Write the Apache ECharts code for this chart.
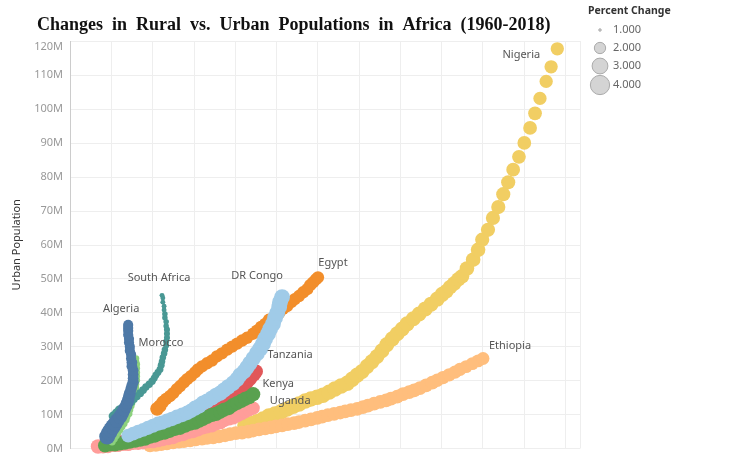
<!DOCTYPE html>
<html>
<head>
<meta charset="utf-8">
<title>Rural vs Urban Populations in Africa</title>
<script src="https://cdn.jsdelivr.net/npm/echarts@6/dist/echarts.min.js"></script>
<style>
    html, body { margin: 0; padding: 0; background: #fff; }
    #chart01 { width: 736px; height: 454px; }
</style>
</head>
<body>
<div id="chart01"></div>
<script>
// rural / urban population in millions, pct = percent change (mark size)
var nigeriaRural = [42.4, 43.9, 45.3, 46.8, 48.2, 49.7, 51.2, 52.6, 54.1, 55.5, 57.0, 58.4, 59.9, 61.3, 62.8, 64.2, 65.7, 67.2, 68.4, 69.6, 70.8, 72.0, 73.2, 74.4, 75.6, 76.8, 78.1, 79.3, 80.5, 81.7, 83.2, 84.6, 86.1, 87.5, 89.0, 90.2, 91.2, 92.1, 93.1, 94.1, 95.0, 96.2, 97.7, 98.9, 99.9, 101.3, 102.5, 103.8, 105.0, 106.2, 107.4, 108.8, 110.1, 111.5, 112.7, 113.9, 115.4, 116.6, 118.1];
var nigeriaUrban = [6.7, 7.3, 7.9, 8.7, 9.6, 10.2, 10.8, 11.6, 12.4, 13.1, 14.0, 14.6, 15.1, 15.7, 16.6, 17.5, 18.4, 19.2, 20.4, 21.6, 22.7, 24.2, 25.6, 27.1, 28.8, 30.6, 32.3, 33.8, 35.2, 36.7, 38.2, 39.6, 41.1, 42.5, 44.0, 45.4, 46.3, 47.5, 48.6, 49.8, 50.7, 53.0, 55.6, 58.5, 61.5, 64.4, 67.9, 71.1, 74.9, 78.4, 82.1, 85.9, 90.0, 94.4, 98.7, 103.1, 108.1, 112.4, 117.7];
var nigeriaPct = [2.9, 2.9, 2.9, 2.9, 2.9, 2.9, 2.9, 2.9, 2.9, 2.9, 2.9, 2.9, 2.9, 2.9, 2.9, 2.9, 2.9, 2.9, 2.9, 2.9, 2.8, 2.8, 2.8, 2.8, 2.8, 2.8, 2.8, 2.8, 2.8, 2.8, 2.8, 2.8, 2.8, 2.8, 2.8, 2.8, 2.7, 2.7, 2.7, 2.7, 2.7, 2.7, 2.7, 2.7, 2.6, 2.6, 2.6, 2.6, 2.6, 2.6, 2.5, 2.5, 2.5, 2.5, 2.5, 2.4, 2.4, 2.4, 2.4];

var ethiopiaRural = [19.4, 20.8, 22.1, 23.5, 25.0, 26.4, 27.6, 29.1, 30.5, 32.0, 33.2, 34.7, 36.1, 37.6, 38.8, 40.2, 41.7, 43.2, 44.4, 45.8, 47.3, 48.7, 49.9, 51.4, 52.8, 54.3, 55.5, 57.0, 58.4, 59.9, 61.1, 62.5, 64.0, 65.5, 66.7, 68.1, 69.6, 71.0, 72.2, 73.7, 75.2, 76.6, 77.8, 79.3, 80.7, 82.2, 83.4, 84.8, 86.3, 87.8, 89.0, 90.4, 91.9, 93.3, 94.5, 96.0, 97.5, 98.9, 100.1];
var ethiopiaUrban = [0.9, 1.1, 1.3, 1.5, 1.8, 2.0, 2.2, 2.4, 2.7, 2.9, 3.1, 3.3, 3.6, 3.9, 4.2, 4.5, 4.7, 5.0, 5.3, 5.6, 5.9, 6.2, 6.5, 6.8, 7.2, 7.5, 7.8, 8.2, 8.6, 9.0, 9.4, 9.8, 10.2, 10.6, 10.9, 11.3, 11.7, 12.2, 12.6, 13.2, 13.7, 14.2, 14.7, 15.3, 16.0, 16.6, 17.1, 17.8, 18.6, 19.4, 20.1, 20.9, 21.7, 22.5, 23.3, 24.1, 25.0, 25.8, 26.5];
var ethiopiaPct = [2.5, 2.5, 2.5, 2.5, 2.5, 2.5, 2.5, 2.5, 2.5, 2.5, 2.5, 2.5, 2.5, 2.5, 2.5, 2.5, 2.5, 2.5, 2.5, 2.5, 2.5, 2.5, 2.5, 2.5, 2.5, 2.5, 2.5, 2.5, 2.5, 2.5, 2.5, 2.5, 2.5, 2.5, 2.5, 2.5, 2.5, 2.5, 2.5, 2.5, 2.5, 2.5, 2.5, 2.5, 2.5, 2.5, 2.5, 2.5, 2.5, 2.5, 2.4, 2.4, 2.4, 2.4, 2.4, 2.3, 2.3, 2.3, 2.3];

var egyptRural = [21.1, 21.8, 22.5, 23.3, 24.2, 25.0, 25.9, 26.7, 27.6, 28.4, 29.3, 30.3, 31.0, 32.0, 33.2, 34.4, 35.6, 36.8, 38.1, 39.3, 40.5, 41.7, 42.9, 44.4, 45.3, 46.3, 47.3, 48.2, 49.5, 50.7, 51.6, 52.6, 53.6, 54.5, 55.5, 56.5, 57.5, 58.2, 58.9, 59.6, 60.1];
var egyptUrban = [11.7, 12.5, 13.7, 14.6, 15.4, 16.3, 17.5, 18.4, 19.5, 20.4, 21.3, 22.4, 23.3, 24.2, 25.1, 25.9, 27.1, 28.0, 29.1, 30.0, 30.9, 31.8, 32.6, 33.8, 34.7, 35.8, 36.7, 37.9, 38.7, 39.9, 41.1, 41.9, 43.1, 44.0, 44.9, 46.0, 46.9, 48.1, 48.9, 49.8, 50.4];
var egyptPct = [2.5, 2.4, 2.3, 2.2, 2.2, 2.2, 2.2, 2.2, 2.2, 2.2, 2.2, 2.2, 2.2, 2.2, 2.2, 2.2, 2.2, 2.2, 2.2, 2.2, 2.2, 2.2, 2.2, 2.2, 2.2, 2.2, 2.2, 2.2, 2.2, 2.2, 2.2, 2.2, 2.2, 2.2, 2.2, 2.2, 2.2, 2.2, 2.2, 2.2, 2.2];

var congoRural = [14.1, 15.3, 16.5, 17.7, 18.9, 20.1, 21.3, 22.3, 23.5, 24.7, 25.9, 27.2, 28.4, 29.3, 30.3, 31.3, 32.2, 33.2, 34.4, 35.4, 36.4, 37.3, 38.3, 39.5, 40.5, 41.2, 42.2, 42.9, 43.6, 44.4, 45.3, 46.1, 46.8, 47.3, 48.0, 48.5, 49.2, 49.7, 50.2, 50.7, 50.9, 51.4];
var congoUrban = [3.8, 4.4, 5.0, 5.5, 6.1, 6.7, 7.3, 7.6, 8.2, 8.7, 9.3, 9.9, 10.5, 11.1, 11.9, 12.5, 13.4, 14.0, 14.9, 15.7, 16.3, 17.2, 18.1, 19.2, 20.4, 21.6, 22.7, 23.9, 25.1, 26.5, 28.0, 29.4, 30.9, 32.3, 33.8, 35.2, 36.7, 38.5, 39.9, 41.7, 43.1, 44.6];
var congoPct = [2.5, 2.5, 2.5, 2.5, 2.6, 2.6, 2.6, 2.6, 2.6, 2.7, 2.7, 2.7, 2.7, 2.7, 2.8, 2.8, 2.8, 2.8, 2.8, 2.8, 2.9, 2.9, 2.9, 2.9, 2.9, 2.9, 2.9, 2.9, 2.9, 2.9, 3.0, 3.0, 3.0, 3.0, 3.0, 3.0, 3.0, 3.0, 3.0, 3.0, 3.0, 3.0];

var tanzaniaRural = [10.2, 11.4, 12.6, 13.8, 15.0, 16.2, 17.5, 18.7, 19.9, 21.1, 22.3, 23.5, 24.7, 25.9, 27.2, 28.1, 29.1, 30.3, 31.5, 32.5, 33.7, 34.7, 35.9, 36.8, 38.1, 39.0, 40.0, 40.7, 41.5, 42.2, 42.9, 43.6, 44.1, 44.6, 45.1];
var tanzaniaUrban = [1.2, 1.5, 2.0, 2.3, 2.9, 3.2, 3.8, 4.1, 4.7, 5.0, 5.5, 6.1, 6.7, 7.3, 8.2, 8.7, 9.3, 9.9, 10.8, 11.4, 11.9, 12.5, 13.4, 14.0, 14.9, 15.7, 16.6, 17.2, 18.1, 18.6, 19.5, 20.4, 21.3, 21.8, 22.7];
var tanzaniaPct = [2.4, 2.4, 2.4, 2.4, 2.4, 2.4, 2.4, 2.4, 2.4, 2.4, 2.4, 2.4, 2.4, 2.4, 2.4, 2.4, 2.4, 2.4, 2.4, 2.4, 2.4, 2.4, 2.4, 2.4, 2.4, 2.4, 2.4, 2.4, 2.5, 2.5, 2.5, 2.5, 2.5, 2.5, 2.5];

var kenyaRural = [8.5, 9.7, 10.9, 12.1, 13.3, 14.5, 15.8, 17.0, 18.2, 19.4, 20.6, 21.8, 23.0, 24.2, 25.5, 26.7, 27.9, 29.1, 30.3, 31.3, 32.2, 33.2, 34.4, 35.4, 36.4, 37.3, 38.5, 39.5, 40.5, 41.5, 42.4, 43.4, 44.4];
var kenyaUrban = [0.9, 1.2, 1.2, 1.5, 1.7, 2.0, 2.3, 2.6, 2.9, 3.5, 3.8, 4.4, 4.7, 5.2, 5.8, 6.1, 6.7, 7.3, 7.6, 8.2, 8.7, 9.3, 9.9, 10.2, 10.8, 11.4, 11.9, 12.8, 13.4, 14.0, 14.6, 15.1, 16.0];
var kenyaPct = [2.6, 2.6, 2.6, 2.6, 2.6, 2.6, 2.6, 2.6, 2.6, 2.6, 2.6, 2.6, 2.6, 2.6, 2.6, 2.6, 2.6, 2.6, 2.6, 2.6, 2.6, 2.6, 2.6, 2.6, 2.6, 2.6, 2.6, 2.6, 2.6, 2.6, 2.6, 2.6, 2.6];

var ugandaRural = [6.8, 8.0, 9.2, 10.4, 11.6, 12.8, 14.1, 15.3, 16.5, 17.7, 18.9, 20.1, 21.3, 22.5, 23.8, 25.0, 26.2, 27.4, 28.6, 29.8, 31.0, 32.2, 33.2, 34.4, 35.4, 36.4, 37.3, 38.5, 39.5, 40.5, 41.5, 42.4, 43.4, 44.4];
var ugandaUrban = [0.6, 0.6, 0.6, 0.9, 0.9, 1.2, 1.2, 1.5, 1.5, 1.7, 2.0, 2.0, 2.3, 2.6, 2.9, 3.2, 3.8, 4.1, 4.7, 5.0, 5.5, 6.1, 6.4, 6.7, 7.3, 7.6, 8.2, 8.7, 9.0, 9.6, 10.2, 10.8, 11.4, 11.9];
var ugandaPct = [2.7, 2.6, 2.5, 2.4, 2.4, 2.4, 2.4, 2.4, 2.4, 2.4, 2.4, 2.4, 2.4, 2.4, 2.4, 2.4, 2.4, 2.4, 2.4, 2.4, 2.4, 2.4, 2.4, 2.4, 2.4, 2.4, 2.4, 2.4, 2.4, 2.4, 2.4, 2.4, 2.4, 2.4];

var algeriaRural = [9.0, 9.5, 9.9, 10.4, 10.9, 11.4, 12.1, 12.6, 13.1, 13.6, 13.8, 14.1, 14.3, 14.5, 14.8, 15.0, 15.3, 15.3, 15.3, 15.3, 15.0, 15.0, 14.8, 14.8, 14.5, 14.5, 14.3, 14.3, 14.1, 14.1, 14.1, 14.1];
var algeriaUrban = [3.5, 4.7, 5.5, 6.4, 7.3, 8.2, 9.3, 10.2, 11.4, 12.5, 13.4, 14.3, 15.4, 16.3, 17.5, 18.4, 19.5, 20.7, 21.8, 23.0, 24.2, 25.3, 26.5, 27.7, 28.8, 30.0, 31.2, 32.3, 33.5, 34.7, 35.5, 36.4];
var algeriaPct = [3.0, 3.0, 2.9, 2.9, 2.8, 2.7, 2.6, 2.5, 2.4, 2.3, 2.2, 2.2, 2.1, 2.1, 2.0, 2.0, 2.0, 1.9, 1.9, 1.9, 1.9, 1.9, 1.8, 1.8, 1.8, 1.8, 1.8, 1.8, 1.8, 1.8, 1.8, 1.8];

var southAfricaRural = [10.4, 11.2, 11.9, 12.6, 13.3, 14.1, 14.8, 15.5, 16.2, 17.0, 17.7, 18.4, 19.2, 19.9, 20.4, 20.8, 21.3, 21.8, 22.1, 22.3, 22.5, 22.8, 23.0, 23.3, 23.3, 23.5, 23.5, 23.5, 23.3, 23.3, 23.0, 23.0, 22.8, 22.8, 22.5, 22.5, 22.3];
var southAfricaUrban = [9.6, 10.5, 11.4, 11.9, 12.5, 13.1, 13.7, 14.6, 15.4, 16.3, 17.2, 18.1, 18.9, 19.8, 20.7, 21.6, 22.4, 23.3, 24.5, 25.6, 26.8, 28.0, 29.1, 30.3, 31.5, 32.6, 33.8, 35.0, 36.1, 37.3, 38.5, 39.6, 40.8, 41.9, 43.1, 44.3, 45.1];
var southAfricaPct = [1.55, 1.55, 1.55, 1.5, 1.5, 1.5, 1.5, 1.45, 1.45, 1.45, 1.45, 1.4, 1.4, 1.4, 1.35, 1.35, 1.35, 1.35, 1.35, 1.3, 1.3, 1.3, 1.3, 1.25, 1.25, 1.25, 1.25, 1.25, 1.2, 1.2, 1.2, 1.2, 1.15, 1.15, 1.15, 1.15, 1.15];

var moroccoRural = [10.2, 10.7, 11.2, 11.6, 12.1, 12.6, 13.1, 13.6, 13.8, 14.3, 14.5, 14.8, 15.0, 15.3, 15.5, 15.8, 16.0, 16.0, 16.2, 16.2, 16.2, 16.2, 16.2, 16.0, 16.0];
var moroccoUrban = [2.0, 2.9, 3.8, 4.7, 5.5, 6.4, 7.3, 8.4, 9.3, 10.2, 11.4, 12.5, 13.4, 14.6, 15.7, 16.6, 17.8, 18.9, 20.1, 21.3, 22.4, 23.6, 24.8, 25.6, 26.5];
var moroccoPct = [1.4, 1.4, 1.4, 1.4, 1.35, 1.35, 1.35, 1.35, 1.35, 1.35, 1.35, 1.35, 1.35, 1.35, 1.35, 1.35, 1.3, 1.3, 1.3, 1.3, 1.3, 1.3, 1.3, 1.3, 1.3];

// size legend
var legendValues = [1, 2, 3, 4];

chart01();

// mark diameter from percent change (same scale as legend)
function sizeOf(p) {
    return Math.sqrt(122 * Math.max(p - 0.95, 0.02));
}

function chart01() {
    var chartDom = document.getElementById('chart01');
    var myChart = echarts.init(chartDom);
    var option;

    // draw order: later ones sit on top
    var countries = [
        { name: 'Nigeria', rural: nigeriaRural, urban: nigeriaUrban, pct: nigeriaPct },
        { name: 'Ethiopia', rural: ethiopiaRural, urban: ethiopiaUrban, pct: ethiopiaPct },
        { name: 'Uganda', rural: ugandaRural, urban: ugandaUrban, pct: ugandaPct },
        { name: 'Tanzania', rural: tanzaniaRural, urban: tanzaniaUrban, pct: tanzaniaPct },
        { name: 'Kenya', rural: kenyaRural, urban: kenyaUrban, pct: kenyaPct },
        { name: 'Egypt', rural: egyptRural, urban: egyptUrban, pct: egyptPct },
        { name: 'DR Congo', rural: congoRural, urban: congoUrban, pct: congoPct },
        { name: 'Morocco', rural: moroccoRural, urban: moroccoUrban, pct: moroccoPct },
        { name: 'South Africa', rural: southAfricaRural, urban: southAfricaUrban, pct: southAfricaPct },
        { name: 'Algeria', rural: algeriaRural, urban: algeriaUrban, pct: algeriaPct }
    ];
    var colors = {
        'Nigeria': '#f1ce63',
        'Ethiopia': '#ffbe7d',
        'Uganda': '#ff9d9a',
        'Tanzania': '#e15759',
        'Kenya': '#59a14f',
        'Egypt': '#f28e2b',
        'DR Congo': '#a0cbe8',
        'Morocco': '#8cd17d',
        'South Africa': '#499894',
        'Algeria': '#4e79a7'
    };
    // label offset from the last mark
    var labelOffset = {
        'Nigeria': [-36, 6],
        'Ethiopia': [27, -13],
        'Uganda': [37, -7],
        'Tanzania': [34, -17],
        'Kenya': [25, -10],
        'Egypt': [15, -14],
        'DR Congo': [-25, -21],
        'Morocco': [25, -16],
        'South Africa': [-3, -17],
        'Algeria': [-7, -16]
    };

    var series = countries.map(function (c) {
        var last = c.rural.length - 1;
        return {
            name: c.name,
            type: 'scatter',
            symbolSize: function (val) {
                return sizeOf(val[2]);
            },
            itemStyle: { color: colors[c.name], opacity: 1 },
            emphasis: { disabled: true },
            data: c.rural.map(function (r, i) {
                var item = { value: [r, c.urban[i], c.pct[i]] };
                if (i === last) {
                    item.label = {
                        show: true,
                        formatter: c.name,
                        position: 'inside',
                        offset: labelOffset[c.name],
                        color: '#555',
                        fontSize: 11,
                        fontFamily: 'Noto Sans'
                    };
                }
                return item;
            })
        };
    });

    // size legend built with graphic
    var legendY = [30, 48, 66, 85];
    var legendItems = [{
        type: 'text',
        left: 588,
        top: 6,
        style: { text: 'Percent Change', fill: '#333', font: 'bold 10.5px "Noto Sans"' }
    }];
    legendValues.forEach(function (v, i) {
        legendItems.push({
            type: 'circle',
            shape: { cx: 600, cy: legendY[i], r: sizeOf(v) / 2 },
            style: { fill: '#d4d4d4', stroke: '#aaa', lineWidth: 1 }
        });
        legendItems.push({
            type: 'text',
            x: 613,
            y: legendY[i],
            style: { text: v.toFixed(3), fill: '#666', font: '11px "Noto Sans"', textVerticalAlign: 'middle' }
        });
    });

    option = {
        animation: false,
        title: {
            text: 'Changes  in  Rural  vs.  Urban  Populations  in  Africa  (1960-2018)',
            left: 32,
            top: 11,
            textStyle: {
                fontFamily: 'Liberation Serif',
                fontWeight: 'bold',
                fontSize: 18,
                color: '#111'
            }
        },
        grid: {
            left: 70,
            right: 156,
            top: 41,
            bottom: 1
        },
        xAxis: {
            type: 'value',
            min: 0,
            max: 123.6,
            interval: 10,
            axisLine: { show: false },
            axisTick: { show: false },
            axisLabel: { show: false },
            splitLine: { lineStyle: { color: '#eeeeee' } }
        },
        yAxis: {
            type: 'value',
            min: 0,
            max: 120,
            interval: 10,
            name: 'Urban Population',
            nameLocation: 'middle',
            nameGap: 48,
            nameTextStyle: { color: '#333', fontSize: 11, fontFamily: 'Noto Sans' },
            axisLine: { show: true, lineStyle: { color: '#c8c8c8', type: 'dotted' } },
            axisTick: { show: false },
            axisLabel: {
                color: '#999',
                fontSize: 11,
                fontFamily: 'Noto Sans',
                margin: 7,
                verticalAlignMaxLabel: 'top',
                formatter: function (v) { return v + 'M'; }
            },
            splitLine: { lineStyle: { color: '#eeeeee' } }
        },
        graphic: legendItems,
        series: series
    };

    option && myChart.setOption(option);
}
</script>
</body>
</html>
